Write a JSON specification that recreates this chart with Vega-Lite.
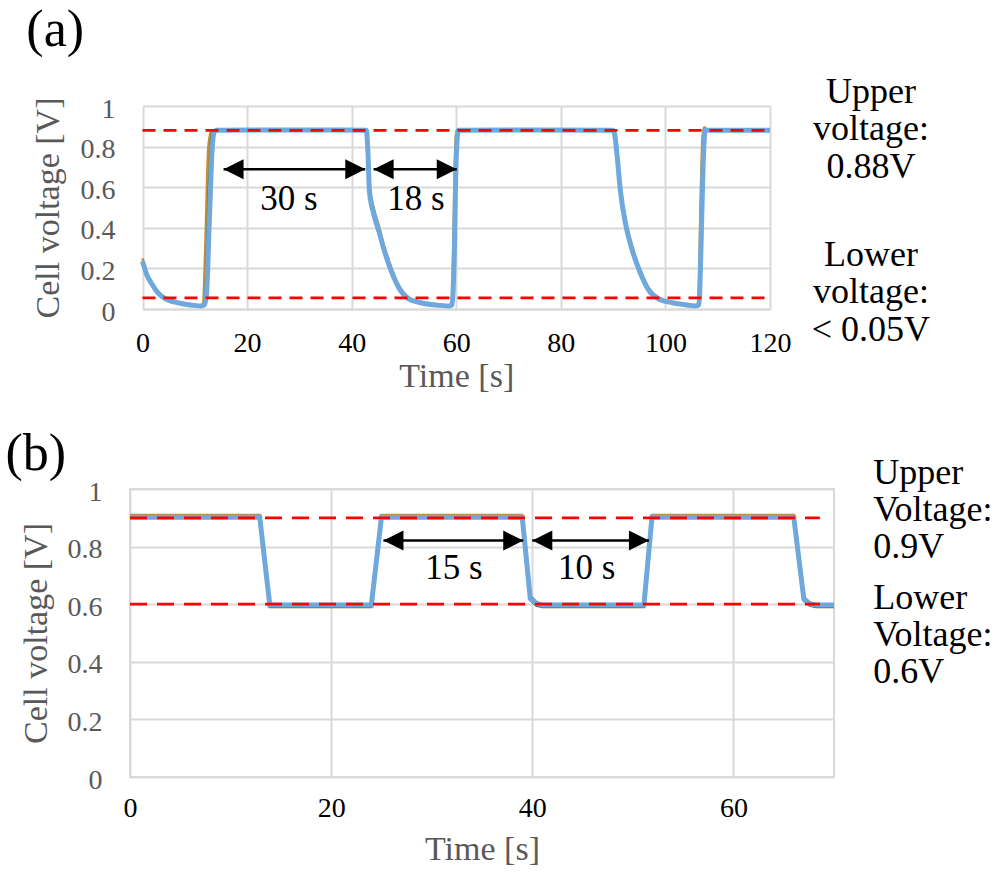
{
  "$schema": "https://vega.github.io/schema/vega-lite/v6.json",
  "background": "white",
  "padding": {"left": 4, "top": 4, "right": 0, "bottom": 0},
  "columns": 1,
  "align": "none",
  "spacing": 33,
  "datasets": {
    "a_lines": [
      {"s":"s1","t":0,"v":0.25},{"s":"s1","t":0.8,"v":0.18},{"s":"s1","t":1.8,"v":0.13},{"s":"s1","t":3,"v":0.085},{"s":"s1","t":4.4,"v":0.056},{"s":"s1","t":6,"v":0.04},{"s":"s1","t":7.6,"v":0.03},{"s":"s1","t":9.5,"v":0.022},{"s":"s1","t":11.2,"v":0.018},{"s":"s1","t":11.6,"v":0.03},{"s":"s1","t":12.0,"v":0.3},{"s":"s1","t":12.6,"v":0.8},{"s":"s1","t":13.2,"v":0.88},{"s":"s1","t":25,"v":0.883},{"s":"s1","t":42.8,"v":0.882},{"s":"s1","t":43.1,"v":0.8},{"s":"s1","t":43.4,"v":0.62},{"s":"s1","t":44.2,"v":0.5},{"s":"s1","t":45.2,"v":0.41},{"s":"s1","t":46.1,"v":0.32},{"s":"s1","t":47.1,"v":0.24},{"s":"s1","t":48,"v":0.175},{"s":"s1","t":49,"v":0.118},{"s":"s1","t":50,"v":0.08},{"s":"s1","t":50.9,"v":0.057},{"s":"s1","t":52.5,"v":0.04},{"s":"s1","t":54.1,"v":0.03},{"s":"s1","t":56.5,"v":0.022},{"s":"s1","t":58.6,"v":0.018},{"s":"s1","t":59.2,"v":0.025},{"s":"s1","t":59.5,"v":0.4},{"s":"s1","t":59.9,"v":0.85},{"s":"s1","t":60.3,"v":0.885},{"s":"s1","t":90,"v":0.882},{"s":"s1","t":90.3,"v":0.87},{"s":"s1","t":90.8,"v":0.76},{"s":"s1","t":91.4,"v":0.6},{"s":"s1","t":92.4,"v":0.44},{"s":"s1","t":93.7,"v":0.305},{"s":"s1","t":95.3,"v":0.185},{"s":"s1","t":96.9,"v":0.1},{"s":"s1","t":98.8,"v":0.055},{"s":"s1","t":101.3,"v":0.035},{"s":"s1","t":103.5,"v":0.025},{"s":"s1","t":105.8,"v":0.018},{"s":"s1","t":106.3,"v":0.03},{"s":"s1","t":106.7,"v":0.5},{"s":"s1","t":107.1,"v":0.85},{"s":"s1","t":107.4,"v":0.895},{"s":"s1","t":108,"v":0.885},{"s":"s1","t":120,"v":0.882},
      {"s":"s2","t":0,"v":0.23},{"s":"s2","t":0.8,"v":0.165},{"s":"s2","t":1.8,"v":0.118},{"s":"s2","t":3,"v":0.075},{"s":"s2","t":4.4,"v":0.047},{"s":"s2","t":6,"v":0.033},{"s":"s2","t":7.6,"v":0.025},{"s":"s2","t":9.5,"v":0.018},{"s":"s2","t":11.2,"v":0.014},{"s":"s2","t":11.8,"v":0.02},{"s":"s2","t":12.1,"v":0.1},{"s":"s2","t":12.7,"v":0.6},{"s":"s2","t":13.2,"v":0.85},{"s":"s2","t":13.6,"v":0.878},{"s":"s2","t":42.8,"v":0.879},{"s":"s2","t":43.1,"v":0.75},{"s":"s2","t":43.4,"v":0.56},{"s":"s2","t":44.2,"v":0.46},{"s":"s2","t":45.2,"v":0.37},{"s":"s2","t":46.1,"v":0.29},{"s":"s2","t":47.1,"v":0.21},{"s":"s2","t":48,"v":0.15},{"s":"s2","t":49,"v":0.1},{"s":"s2","t":50,"v":0.066},{"s":"s2","t":50.9,"v":0.046},{"s":"s2","t":52.5,"v":0.033},{"s":"s2","t":54.1,"v":0.025},{"s":"s2","t":56.5,"v":0.018},{"s":"s2","t":58.6,"v":0.014},{"s":"s2","t":59.2,"v":0.02},{"s":"s2","t":59.6,"v":0.3},{"s":"s2","t":60.0,"v":0.8},{"s":"s2","t":60.4,"v":0.879},{"s":"s2","t":90,"v":0.879},{"s":"s2","t":90.3,"v":0.86},{"s":"s2","t":90.8,"v":0.735},{"s":"s2","t":91.4,"v":0.57},{"s":"s2","t":92.4,"v":0.405},{"s":"s2","t":93.7,"v":0.275},{"s":"s2","t":95.3,"v":0.163},{"s":"s2","t":96.9,"v":0.084},{"s":"s2","t":98.8,"v":0.045},{"s":"s2","t":101.3,"v":0.029},{"s":"s2","t":103.5,"v":0.02},{"s":"s2","t":105.8,"v":0.014},{"s":"s2","t":106.4,"v":0.02},{"s":"s2","t":106.8,"v":0.35},{"s":"s2","t":107.2,"v":0.75},{"s":"s2","t":107.6,"v":0.879},{"s":"s2","t":120,"v":0.879},
      {"s":"blue","t":0,"v":0.236},{"s":"blue","t":0.8,"v":0.17},{"s":"blue","t":1.8,"v":0.123},{"s":"blue","t":3,"v":0.078},{"s":"blue","t":4.4,"v":0.05},{"s":"blue","t":6,"v":0.035},{"s":"blue","t":7.6,"v":0.026},{"s":"blue","t":9.5,"v":0.019},{"s":"blue","t":11.2,"v":0.015},{"s":"blue","t":11.8,"v":0.02},{"s":"blue","t":12.2,"v":0.06},{"s":"blue","t":12.8,"v":0.45},{"s":"blue","t":13.3,"v":0.78},{"s":"blue","t":13.7,"v":0.87},{"s":"blue","t":14.2,"v":0.88},{"s":"blue","t":25,"v":0.882},{"s":"blue","t":35,"v":0.882},{"s":"blue","t":42.8,"v":0.881},{"s":"blue","t":43.1,"v":0.78},{"s":"blue","t":43.4,"v":0.58},{"s":"blue","t":44.2,"v":0.47},{"s":"blue","t":45.2,"v":0.384},{"s":"blue","t":46.1,"v":0.3},{"s":"blue","t":47.1,"v":0.22},{"s":"blue","t":48,"v":0.16},{"s":"blue","t":49,"v":0.105},{"s":"blue","t":50,"v":0.07},{"s":"blue","t":50.9,"v":0.05},{"s":"blue","t":52.5,"v":0.035},{"s":"blue","t":54.1,"v":0.026},{"s":"blue","t":56.5,"v":0.019},{"s":"blue","t":58.6,"v":0.015},{"s":"blue","t":59.2,"v":0.02},{"s":"blue","t":59.6,"v":0.25},{"s":"blue","t":60.0,"v":0.75},{"s":"blue","t":60.4,"v":0.88},{"s":"blue","t":75,"v":0.882},{"s":"blue","t":90,"v":0.881},{"s":"blue","t":90.3,"v":0.86},{"s":"blue","t":90.8,"v":0.745},{"s":"blue","t":91.4,"v":0.58},{"s":"blue","t":92.4,"v":0.417},{"s":"blue","t":93.7,"v":0.286},{"s":"blue","t":95.3,"v":0.171},{"s":"blue","t":96.9,"v":0.089},{"s":"blue","t":98.8,"v":0.048},{"s":"blue","t":101.3,"v":0.031},{"s":"blue","t":103.5,"v":0.022},{"s":"blue","t":105.8,"v":0.015},{"s":"blue","t":106.4,"v":0.02},{"s":"blue","t":106.8,"v":0.3},{"s":"blue","t":107.2,"v":0.7},{"s":"blue","t":107.6,"v":0.88},{"s":"blue","t":110,"v":0.88},{"s":"blue","t":120,"v":0.88}
    ],
    "a_ref": [
      {"lvl":"upper","t":0,"v":0.88},{"lvl":"upper","t":120,"v":0.88},
      {"lvl":"lower","t":0,"v":0.055},{"lvl":"lower","t":120,"v":0.055}
    ],
    "a_arrows": [
      {"t0":15.5,"t1":42.6,"v":0.688,"label":"30 s","lt":28.0,"lv":0.488},
      {"t0":44.2,"t1":60.1,"v":0.688,"label":"18 s","lt":52.3,"lv":0.488}
    ],
    "a_notes": [
      {"t":139.3,"v":1.016,"txt":"Upper\nvoltage:\n0.88V"},
      {"t":139.3,"v":0.212,"txt":"Lower\nvoltage:\n< 0.05V"}
    ],
    "a_tag": [{"t":-16.7,"v":1.294,"txt":"(a)"}],
    "b_lines": [
      {"s":"s1","t":0,"v":0.91},{"s":"s1","t":12.9,"v":0.91},{"s":"s1","t":13.9,"v":0.6},{"s":"s1","t":24.0,"v":0.6},{"s":"s1","t":25.0,"v":0.91},{"s":"s1","t":39.0,"v":0.91},{"s":"s1","t":39.8,"v":0.63},{"s":"s1","t":40.4,"v":0.608},{"s":"s1","t":41.0,"v":0.6},{"s":"s1","t":51.1,"v":0.6},{"s":"s1","t":51.9,"v":0.91},{"s":"s1","t":66.0,"v":0.91},{"s":"s1","t":67.0,"v":0.625},{"s":"s1","t":67.6,"v":0.605},{"s":"s1","t":68.2,"v":0.6},{"s":"s1","t":70,"v":0.6},
      {"s":"s2","t":0,"v":0.9},{"s":"s2","t":12.9,"v":0.9},{"s":"s2","t":13.9,"v":0.59},{"s":"s2","t":24.0,"v":0.59},{"s":"s2","t":25.0,"v":0.9},{"s":"s2","t":39.0,"v":0.9},{"s":"s2","t":39.8,"v":0.615},{"s":"s2","t":40.4,"v":0.595},{"s":"s2","t":41.0,"v":0.59},{"s":"s2","t":51.1,"v":0.59},{"s":"s2","t":51.9,"v":0.9},{"s":"s2","t":66.0,"v":0.9},{"s":"s2","t":67.0,"v":0.612},{"s":"s2","t":67.6,"v":0.595},{"s":"s2","t":68.2,"v":0.59},{"s":"s2","t":70,"v":0.59},
      {"s":"blue","t":0,"v":0.902},{"s":"blue","t":12.9,"v":0.902},{"s":"blue","t":13.9,"v":0.597},{"s":"blue","t":24.0,"v":0.597},{"s":"blue","t":25.0,"v":0.902},{"s":"blue","t":39.0,"v":0.902},{"s":"blue","t":39.8,"v":0.62},{"s":"blue","t":40.4,"v":0.603},{"s":"blue","t":41.0,"v":0.597},{"s":"blue","t":51.1,"v":0.597},{"s":"blue","t":51.9,"v":0.902},{"s":"blue","t":66.0,"v":0.902},{"s":"blue","t":67.0,"v":0.618},{"s":"blue","t":67.6,"v":0.602},{"s":"blue","t":68.2,"v":0.597},{"s":"blue","t":70,"v":0.597}
    ],
    "b_ref": [
      {"lvl":"upper","t":0,"v":0.9},{"lvl":"upper","t":68.6,"v":0.9},
      {"lvl":"lower","t":0,"v":0.6},{"lvl":"lower","t":68.6,"v":0.6}
    ],
    "b_arrows": [
      {"t0":25.2,"t1":39.1,"v":0.821,"label":"15 s","lt":32.2,"lv":0.688},
      {"t0":40.0,"t1":51.6,"v":0.821,"label":"10 s","lt":45.4,"lv":0.688}
    ],
    "b_notes": [
      {"t":73.9,"v":1.017,"txt":"Upper\nVoltage:\n0.9V"},
      {"t":73.9,"v":0.584,"txt":"Lower\nVoltage:\n0.6V"}
    ],
    "b_tag": [{"t":-9.36,"v":1.066,"txt":"(b)"}]
  },
  "concat": [
    {
      "width": 640,
      "height": 203,
      "view": {"stroke": null},
      "layer": [
        {
          "data": {"name": "a_lines"},
          "transform": [{"filter": "datum.s != 'blue'"}],
          "mark": {"type": "line", "strokeWidth": 2.5, "interpolate": "monotone"},
          "encoding": {
            "x": {"field": "t", "type": "quantitative",
              "scale": {"domain": [0, 120], "range": [12.5, 640], "nice": false, "zero": false},
              "axis": {"values": [0, 20, 40, 60, 80, 100, 120], "format": "d", "title": "Time [s]", "grid": true, "domain": true, "domainColor": "#d9d9d9", "domainWidth": 2, "labelPadding": 20, "titlePadding": 2, "labelFlush": false, "labelOverlap": false}},
            "y": {"field": "v", "type": "quantitative",
              "scale": {"domain": [0, 1], "nice": false, "zero": false},
              "axis": {"values": [0, 0.2, 0.4, 0.6, 0.8, 1], "format": "~g", "title": "Cell voltage [V]", "grid": true, "labelPadding": 15, "titlePadding": 15, "labelOffset": 3, "labelFlush": false, "labelOverlap": false}},
            "color": {"field": "s", "type": "nominal", "scale": {"domain": ["s1", "s2"], "range": ["#c98a32", "#55772b"]}, "legend": null}
          }
        },
        {
          "data": {"name": "a_lines"},
          "transform": [{"filter": "datum.s == 'blue'"}],
          "mark": {"type": "line", "strokeWidth": 5, "color": "#6ea8dc", "interpolate": "monotone"},
          "encoding": {"x": {"field": "t", "type": "quantitative"}, "y": {"field": "v", "type": "quantitative"}}
        },
        {
          "data": {"name": "a_ref"},
          "mark": {"type": "line", "color": "#ff0000", "strokeWidth": 2.8, "strokeDash": [13, 8]},
          "encoding": {"x": {"field": "t", "type": "quantitative"}, "y": {"field": "v", "type": "quantitative"}, "detail": {"field": "lvl"}}
        },
        {
          "data": {"name": "a_arrows"},
          "mark": {"type": "rule", "color": "#000000", "strokeWidth": 2.5},
          "encoding": {"x": {"field": "t0", "type": "quantitative"}, "x2": {"field": "t1"}, "y": {"field": "v", "type": "quantitative"}}
        },
        {
          "data": {"name": "a_arrows"},
          "mark": {"type": "point", "shape": "M0,0L1,-0.5L1,0.5Z", "filled": true, "color": "#000000", "size": 1600, "opacity": 1, "strokeWidth": 0},
          "encoding": {"x": {"field": "t0", "type": "quantitative"}, "y": {"field": "v", "type": "quantitative"}}
        },
        {
          "data": {"name": "a_arrows"},
          "mark": {"type": "point", "shape": "M0,0L-1,-0.5L-1,0.5Z", "filled": true, "color": "#000000", "size": 1600, "opacity": 1, "strokeWidth": 0},
          "encoding": {"x": {"field": "t1", "type": "quantitative"}, "y": {"field": "v", "type": "quantitative"}}
        },
        {
          "data": {"name": "a_arrows"},
          "mark": {"type": "text", "fontSize": 35, "align": "center", "baseline": "alphabetic", "color": "#000000"},
          "encoding": {"x": {"field": "lt", "type": "quantitative"}, "y": {"field": "lv", "type": "quantitative"}, "text": {"field": "label"}}
        },
        {
          "data": {"name": "a_notes"},
          "mark": {"type": "text", "fontSize": 36, "align": "center", "baseline": "alphabetic", "lineBreak": "\n", "lineHeight": 37.5, "color": "#000000"},
          "encoding": {"x": {"field": "t", "type": "quantitative"}, "y": {"field": "v", "type": "quantitative"}, "text": {"field": "txt"}}
        },
        {
          "data": {"name": "a_tag"},
          "mark": {"type": "text", "fontSize": 52, "align": "center", "baseline": "alphabetic", "color": "#000000"},
          "encoding": {"x": {"field": "t", "type": "quantitative"}, "y": {"field": "v", "type": "quantitative"}, "text": {"field": "txt"}}
        }
      ]
    },
    {
      "width": 704,
      "height": 288,
      "view": {"stroke": "#d9d9d9", "strokeWidth": 2},
      "layer": [
        {
          "data": {"name": "b_lines"},
          "transform": [{"filter": "datum.s != 'blue'"}],
          "mark": {"type": "line", "strokeWidth": 2.5},
          "encoding": {
            "x": {"field": "t", "type": "quantitative",
              "scale": {"domain": [0, 70], "nice": false, "zero": false},
              "axis": {"values": [0, 20, 40, 60], "format": "d", "title": "Time [s]", "grid": true, "labelPadding": 17, "titlePadding": 10, "labelFlush": false, "labelOverlap": false}},
            "y": {"field": "v", "type": "quantitative",
              "scale": {"domain": [0, 1], "nice": false, "zero": false},
              "axis": {"values": [0, 0.2, 0.4, 0.6, 0.8, 1], "format": "~g", "title": "Cell voltage [V]", "grid": true, "labelPadding": 28, "titlePadding": 14, "labelOffset": 3, "labelFlush": false, "labelOverlap": false}},
            "color": {"field": "s", "type": "nominal", "scale": {"domain": ["s1", "s2"], "range": ["#b9ab55", "#3f6e25"]}, "legend": null}
          }
        },
        {
          "data": {"name": "b_lines"},
          "transform": [{"filter": "datum.s == 'blue'"}],
          "mark": {"type": "line", "strokeWidth": 5, "color": "#6ea8dc"},
          "encoding": {"x": {"field": "t", "type": "quantitative"}, "y": {"field": "v", "type": "quantitative"}}
        },
        {
          "data": {"name": "b_ref"},
          "mark": {"type": "line", "color": "#ff0000", "strokeWidth": 2.8, "strokeDash": [17, 10]},
          "encoding": {"x": {"field": "t", "type": "quantitative"}, "y": {"field": "v", "type": "quantitative"}, "detail": {"field": "lvl"}}
        },
        {
          "data": {"name": "b_arrows"},
          "mark": {"type": "rule", "color": "#000000", "strokeWidth": 2.5},
          "encoding": {"x": {"field": "t0", "type": "quantitative"}, "x2": {"field": "t1"}, "y": {"field": "v", "type": "quantitative"}}
        },
        {
          "data": {"name": "b_arrows"},
          "mark": {"type": "point", "shape": "M0,0L1,-0.5L1,0.5Z", "filled": true, "color": "#000000", "size": 1600, "opacity": 1, "strokeWidth": 0},
          "encoding": {"x": {"field": "t0", "type": "quantitative"}, "y": {"field": "v", "type": "quantitative"}}
        },
        {
          "data": {"name": "b_arrows"},
          "mark": {"type": "point", "shape": "M0,0L-1,-0.5L-1,0.5Z", "filled": true, "color": "#000000", "size": 1600, "opacity": 1, "strokeWidth": 0},
          "encoding": {"x": {"field": "t1", "type": "quantitative"}, "y": {"field": "v", "type": "quantitative"}}
        },
        {
          "data": {"name": "b_arrows"},
          "mark": {"type": "text", "fontSize": 35, "align": "center", "baseline": "alphabetic", "color": "#000000"},
          "encoding": {"x": {"field": "lt", "type": "quantitative"}, "y": {"field": "lv", "type": "quantitative"}, "text": {"field": "label"}}
        },
        {
          "data": {"name": "b_notes"},
          "mark": {"type": "text", "fontSize": 36, "align": "left", "baseline": "alphabetic", "lineBreak": "\n", "lineHeight": 37, "color": "#000000"},
          "encoding": {"x": {"field": "t", "type": "quantitative"}, "y": {"field": "v", "type": "quantitative"}, "text": {"field": "txt"}}
        },
        {
          "data": {"name": "b_tag"},
          "mark": {"type": "text", "fontSize": 52, "align": "center", "baseline": "alphabetic", "color": "#000000"},
          "encoding": {"x": {"field": "t", "type": "quantitative"}, "y": {"field": "v", "type": "quantitative"}, "text": {"field": "txt"}}
        }
      ]
    }
  ],
  "config": {
    "font": "Liberation Serif",
    "view": {"stroke": null},
    "axis": {
      "labelFont": "Liberation Serif",
      "titleFont": "Liberation Serif",
      "titleFontWeight": "normal",
      "labelFontSize": 28,
      "titleFontSize": 34,
      "titleColor": "#595959",
      "ticks": false,
      "tickSize": 0,
      "domain": false,
      "gridColor": "#d9d9d9",
      "gridWidth": 2
    },
    "axisY": {"labelColor": "#595959"},
    "axisX": {"labelColor": "#000000"},
    "text": {"font": "Liberation Serif"}
  }
}
